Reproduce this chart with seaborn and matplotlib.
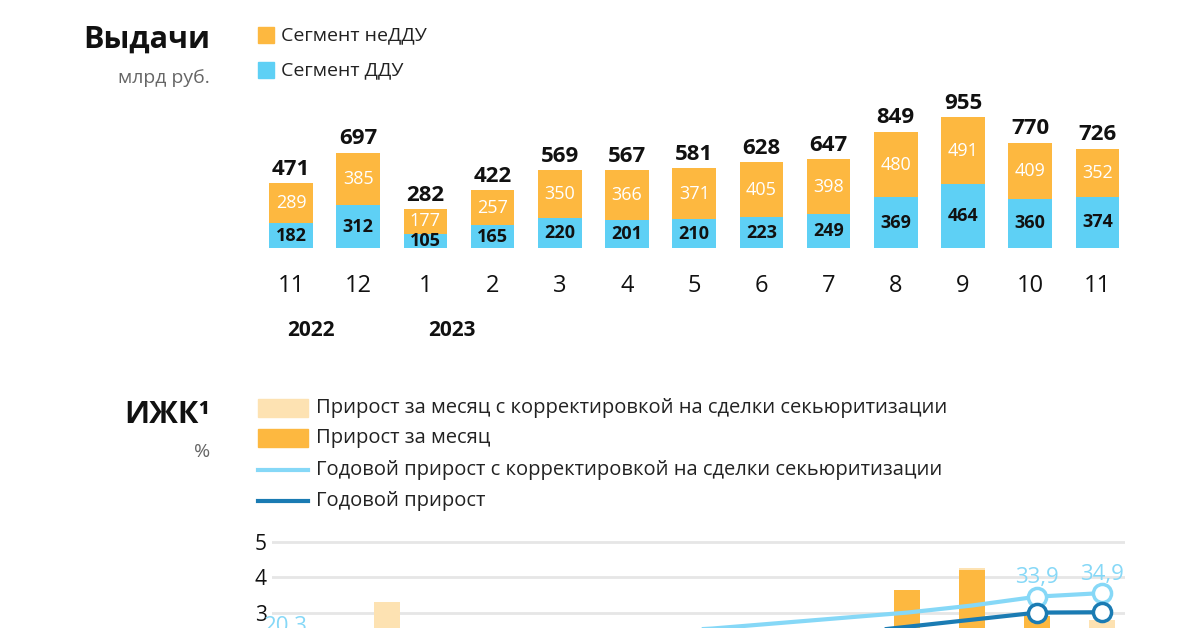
import matplotlib
matplotlib.use("Agg")
import matplotlib.pyplot as plt
import seaborn as sns
import numpy as np
import pandas as pd

months = ["11", "12", "1", "2", "3", "4", "5", "6", "7", "8", "9", "10", "11"]
non_ddu = [289, 385, 177, 257, 350, 366, 371, 405, 398, 480, 491, 409, 352]
ddu = [182, 312, 105, 165, 220, 201, 210, 223, 249, 369, 464, 360, 374]
totals = [471, 697, 282, 422, 569, 567, 581, 628, 647, 849, 955, 770, 726]

# bottom chart (partially visible)
adj_month = [2.2, 3.3, 1.2, 1.6, 1.8, 1.9, 2.0, 2.1, 2.2, 2.3, 4.25, 2.4, 2.8]
month_gr = [2.0, 2.1, 1.0, 1.4, 1.7, 1.8, 1.9, 2.0, 2.1, 3.65, 4.2, 2.9, 2.5]
yoy_adj = [20.3, 20.8, 21.5, 22.2, 23.0, 23.9, 24.9, 26.4, 27.9, 29.4, 31.4, 33.9, 34.9]
yoy = [17.0, 17.5, 18.0, 18.6, 19.3, 20.0, 20.8, 21.8, 23.4, 25.4, 27.4, 29.4, 29.5]
yticks_b = [3, 4, 5]

ORANGE = "#FDB840"
BLUE = "#5ED0F5"
LORANGE = "#FDE2B2"
LBLUE = "#86D8F7"
DBLUE = "#1A7BB3"
plt.rcParams["font.family"] = ["Open Sans", "DejaVu Sans"]

fig = plt.figure(figsize=(12, 6.28), dpi=100)
W, H = 1200, 628

def axes_px(l, t, r, b):
    return fig.add_axes([l / W, 1 - b / H, (r - l) / W, (b - t) / H])

idx = np.arange(len(months))
# top
step = 67.2
l = 291 - 0.8 * step
ax = axes_px(l, 248 - 137, l + 13.6 * step, 248)
sns.barplot(x=idx, y=totals, color=ORANGE, native_scale=True, width=0.65, ax=ax, saturation=1)
sns.barplot(x=idx, y=ddu, color=BLUE, native_scale=True, width=0.65, ax=ax, saturation=1)
ax.set_xlim(-0.8, 12.8)
ax.set_ylim(0, 1000)
ax.axis("off")
for i in idx:
    ax.text(i, totals[i] + 25, str(totals[i]), ha="center", va="bottom", fontsize=16, fontweight="bold", color="#111")
    ax.text(i, ddu[i] + non_ddu[i] / 2, str(non_ddu[i]), ha="center", va="center", fontsize=13, color="white")
    ax.text(i, ddu[i] / 2, str(ddu[i]), ha="center", va="center", fontsize=13, fontweight="bold", color="#111")
    ax.text(i, -280, months[i], ha="center", va="center", fontsize=17, color="#111")
ax.text(0.3, -600, "2022", ha="center", va="center", fontsize=15, fontweight="bold", color="#111")
ax.text(2.4, -600, "2023", ha="center", va="center", fontsize=15, fontweight="bold", color="#111")

fig.text(210 / W, 1 - 40 / H, "Выдачи", ha="right", va="center", fontsize=22, fontweight="bold", color="#111")
fig.text(210 / W, 1 - 78 / H, "млрд руб.", ha="right", va="center", fontsize=14, color="#666")
for y, lab, c in [(35, "Сегмент неДДУ", ORANGE), (70, "Сегмент ДДУ", BLUE)]:
    fig.patches.append(plt.Rectangle((258 / W, 1 - (y + 8) / H), 16 / W, 16 / H, transform=fig.transFigure, color=c))
    fig.text(281 / W, 1 - y / H, lab, ha="left", va="center", fontsize=14, color="#222")

# bottom header & legend
fig.text(210 / W, 1 - 415 / H, "ИЖК¹", ha="right", va="center", fontsize=22, fontweight="bold", color="#111")
fig.text(210 / W, 1 - 452 / H, "%", ha="right", va="center", fontsize=14, color="#666")
leg = [(408, "Прирост за месяц с корректировкой на сделки секьюритизации", LORANGE, "p"),
       (438, "Прирост за месяц", ORANGE, "p"),
       (470, "Годовой прирост с корректировкой на сделки секьюритизации", LBLUE, "l"),
       (501, "Годовой прирост", DBLUE, "l")]
for y, lab, c, k in leg:
    if k == "p":
        fig.patches.append(plt.Rectangle((258 / W, 1 - (y + 9) / H), 50 / W, 18 / H, transform=fig.transFigure, color=c))
    else:
        fig.lines.append(plt.Line2D([258 / W, 308 / W], [1 - y / H, 1 - y / H], transform=fig.transFigure, color=c, lw=3))
    fig.text(316 / W, 1 - y / H, lab, ha="left", va="center", fontsize=14.5, color="#222")

# bottom chart
bx = axes_px(272, 531, 1125, 719)
xl = (-0.77, 12.35)
for t in yticks_b:
    bx.axhline(t, color="#e6e6e6", lw=2, zorder=0)
sns.barplot(x=idx, y=adj_month, color=LORANGE, native_scale=True, width=0.4, ax=bx, saturation=1, zorder=1)
sns.barplot(x=idx, y=month_gr, color=ORANGE, native_scale=True, width=0.4, ax=bx, saturation=1, zorder=2)
bx.set_xlim(*xl)
bx.set_ylim(0, 5.3)
bx.set_yticks(yticks_b)
bx.set_yticklabels([str(t) for t in yticks_b], fontsize=15, color="#111")
bx.tick_params(length=0, pad=4)
bx.set_xticks([])
sns.despine(ax=bx, left=True, bottom=True)
bx.set_ylabel("")
bx2 = bx.twinx()
bx2.set_ylim(-0.6, 52.4)
bx2.set_xlim(*xl)
sns.lineplot(x=idx, y=yoy_adj, color=LBLUE, lw=3, ax=bx2)
sns.lineplot(x=idx, y=yoy, color=DBLUE, lw=3, ax=bx2)
for s, c in [(yoy_adj, LBLUE), (yoy, DBLUE)]:
    bx2.scatter(idx[-2:], s[-2:], s=170, facecolor="white", edgecolor=c, lw=2.5, zorder=5)
for i in [11, 12]:
    bx2.text(i, yoy_adj[i] + 2.3, f"{yoy_adj[i]:.1f}".replace(".", ","), ha="center", va="bottom", fontsize=16, color=LBLUE)
bx2.text(-0.55, yoy_adj[0] + 2.3, f"{yoy_adj[0]:.1f}".replace(".", ","), ha="center", va="bottom", fontsize=16, color=LBLUE)
bx2.axis("off")

fig.savefig("out.png", dpi=100)
